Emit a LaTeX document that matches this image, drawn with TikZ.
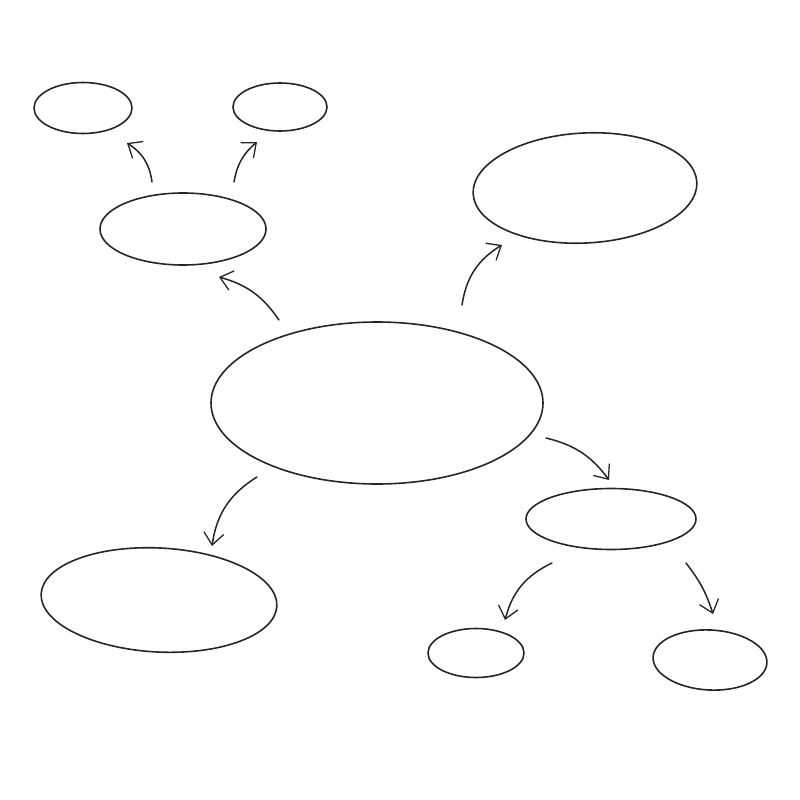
\documentclass[tikz,border=0pt]{standalone}
\usetikzlibrary{shapes.geometric,arrows.meta}
\begin{document}
\begin{tikzpicture}[x=1pt,y=-1pt,
  bub/.style={ellipse,draw=black!85,line width=1.6pt,inner sep=0pt},
  conn/.style={draw=black!85,line width=1.5pt,line cap=round,-{Straight Barb[length=12pt,width=20pt,line width=1.3pt]}}]
\useasboundingbox[fill=white] (0,0) rectangle (800,800);
\node[bub,minimum width=98pt,minimum height=51pt] (tl) at (83,108) {};
\node[bub,minimum width=94pt,minimum height=48pt] (tm) at (280,107) {};
\node[bub,minimum width=166pt,minimum height=72pt] (lm) at (183,229) {};
\node[bub,minimum width=224pt,minimum height=110pt,rotate=3] (tr) at (585,188) {};
\node[bub,minimum width=332pt,minimum height=162pt] (c) at (377,403) {};
\node[bub,minimum width=170pt,minimum height=61pt] (rm) at (611,519) {};
\node[bub,minimum width=236pt,minimum height=104pt,rotate=-3] (bl) at (159,600) {};
\node[bub,minimum width=96pt,minimum height=49pt] (bs) at (476,653) {};
\node[bub,minimum width=114pt,minimum height=60pt,rotate=-3] (br) at (710,660) {};
\coordinate (a1) at (152,182); \coordinate (a2) at (127,143);
\coordinate (b1) at (234,182); \coordinate (b2) at (257,142);
\coordinate (c1) at (279,320); \coordinate (c2) at (219,277);
\coordinate (d1) at (462,305); \coordinate (d2) at (502,245);
\coordinate (e1) at (257,477); \coordinate (e2) at (212,546);
\coordinate (f1) at (546,438); \coordinate (f2) at (609,480);
\coordinate (g1) at (552,563); \coordinate (g2) at (505,620);
\coordinate (h1) at (686,563); \coordinate (h2) at (713,614);
\draw[conn] (a1) to[bend right=25] (a2);
\draw[conn] (b1) to[bend left=20] (b2);
\draw[conn] (c1) to[bend right=20] (c2);
\draw[conn] (d1) to[bend left=25] (d2);
\draw[conn] (e1) to[bend right=25] (e2);
\draw[conn] (f1) to[bend left=20] (f2);
\draw[conn] (g1) to[bend right=25] (g2);
\draw[conn] (h1) to[bend left=10] (h2);
\end{tikzpicture}
\end{document}
